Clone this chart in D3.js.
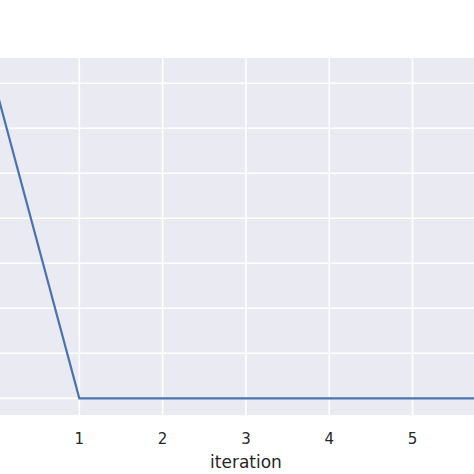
<!DOCTYPE html>
<html><head><meta charset="utf-8">
<script src="https://cdn.jsdelivr.net/npm/d3@7"></script>
<style>body{margin:0;background:#fff}</style></head>
<body><svg id="c" width="474" height="474"></svg>
<script>
const iterations = [0, 1, 2, 3, 4, 5, 6];
const values = [6.88, 0, 0, 0, 0, 0, 0];
const xTicks = [1, 2, 3, 4, 5];
const yTicks = [0, 1, 2, 3, 4, 5, 6, 7];

(function(){
const svg = d3.select("#c");
const pTop = 58, pBottom = 415, pLeft = 0, pRight = 474;
const x = d3.scaleLinear().domain([0.048, 5.738]).range([pLeft, pRight]);
const y = d3.scaleLinear().domain([-0.37, 7.56]).range([pBottom, pTop]);

svg.append("rect").attr("x", pLeft).attr("y", pTop).attr("width", pRight-pLeft).attr("height", pBottom-pTop).attr("fill", "#EAEAF2");
svg.append("clipPath").attr("id","clip").append("rect").attr("x", pLeft).attr("y", pTop).attr("width", pRight-pLeft).attr("height", pBottom-pTop);
const g = svg.append("g").attr("clip-path","url(#clip)");
g.selectAll(".gx").data(xTicks).join("line").attr("x1", d=>x(d)).attr("x2", d=>x(d)).attr("y1", pTop).attr("y2", pBottom).attr("stroke","#fff").attr("stroke-width",1.6);
g.selectAll(".gy").data(yTicks).join("line").attr("x1", pLeft).attr("x2", pRight).attr("y1", d=>y(d)).attr("y2", d=>y(d)).attr("stroke","#fff").attr("stroke-width",1.6);
g.append("path").datum(iterations.map((d,i)=>[d, values[i]]))
 .attr("d", d3.line().x(d=>x(d[0])).y(d=>y(d[1])))
 .attr("fill","none").attr("stroke","#4C72B0").attr("stroke-width",2.2);
svg.selectAll(".tl").data(xTicks).join("text").attr("x", d=>x(d)).attr("y", 444).attr("text-anchor","middle")
 .attr("font-family","DejaVu Sans").attr("font-size",15).attr("fill","#262626").text(d=>d);
svg.append("text").attr("x", 246).attr("y", 468).attr("text-anchor","middle").attr("font-family","DejaVu Sans").attr("font-size",17).attr("fill","#262626").text("iteration");
})();
</script></body></html>
